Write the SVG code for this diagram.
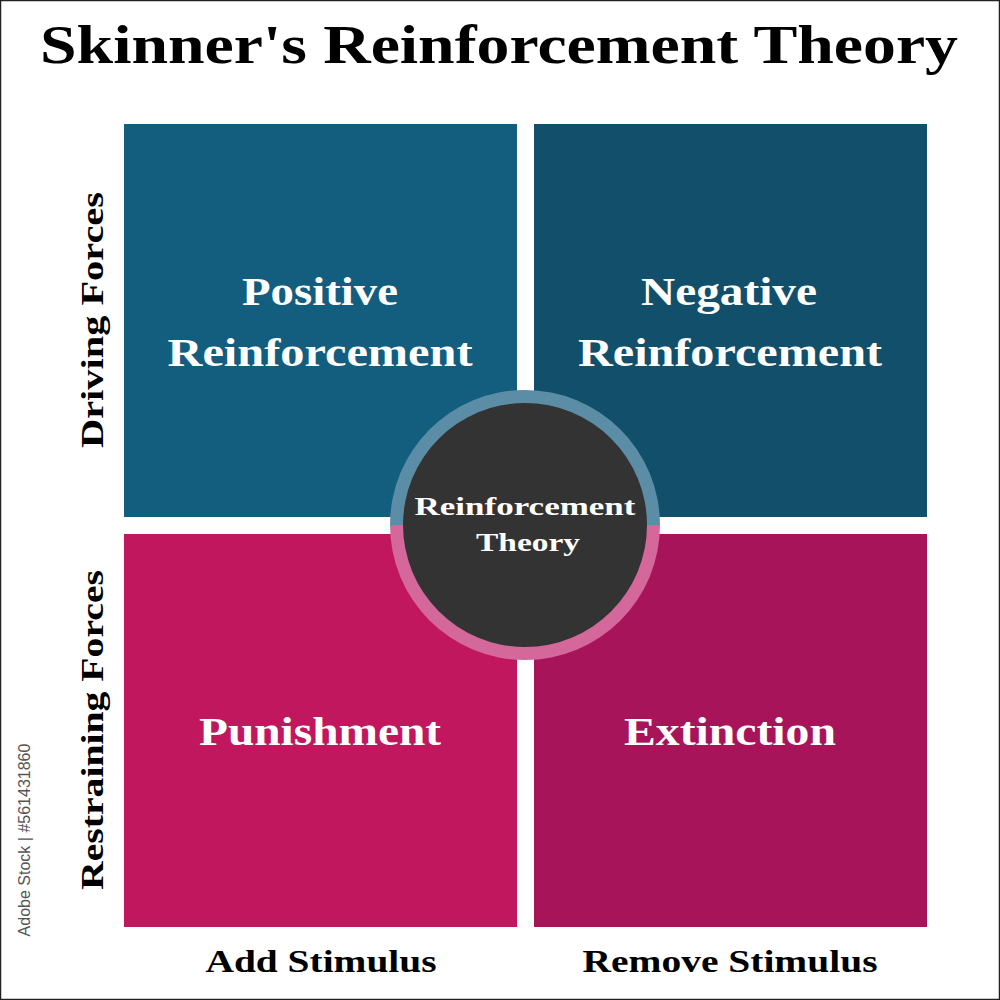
<svg xmlns="http://www.w3.org/2000/svg" width="1000" height="1000" viewBox="0 0 1000 1000">
<style>
.t{font-family:"Liberation Serif","Times New Roman",serif;font-weight:bold;text-anchor:middle}
.w{fill:#fff;font-size:40px}
.k{fill:#000;font-size:32px}
</style>
<rect x="0.5" y="0.5" width="999" height="999" fill="#fff" stroke="#222" stroke-width="1.5"/>
<text class="t" x="499" y="63" font-size="54" textLength="918" lengthAdjust="spacingAndGlyphs">Skinner's Reinforcement Theory</text>
<g id="positive"><rect x="124" y="124" width="393" height="393" fill="#135e7e"/>
<text class="t w" x="320" y="305" textLength="156" lengthAdjust="spacingAndGlyphs">Positive</text><text class="t w" x="320" y="366" textLength="305" lengthAdjust="spacingAndGlyphs">Reinforcement</text></g>
<g id="negative"><rect x="534" y="124" width="393" height="393" fill="#124f6a"/>
<text class="t w" x="729" y="305" textLength="176" lengthAdjust="spacingAndGlyphs">Negative</text><text class="t w" x="730" y="366" textLength="304" lengthAdjust="spacingAndGlyphs">Reinforcement</text></g>
<g id="punishment"><rect x="124" y="534" width="393" height="393" fill="#c0175f"/>
<text class="t w" x="320" y="745" textLength="242" lengthAdjust="spacingAndGlyphs">Punishment</text></g>
<g id="extinction"><rect x="534" y="534" width="393" height="393" fill="#a8145a"/>
<text class="t w" x="730" y="745" textLength="212" lengthAdjust="spacingAndGlyphs">Extinction</text></g>
<g id="center">
<path d="M390,525 A135,135 0 0 1 660,525 Z" fill="#5b8ea6"/>
<path d="M390,525 A135,135 0 0 0 660,525 Z" fill="#d5689a"/>
<circle cx="525" cy="525" r="122" fill="#333"/>
<text class="t" x="525" y="515" font-size="25" fill="#fff" textLength="221" lengthAdjust="spacingAndGlyphs">Reinforcement</text>
<text class="t" x="528" y="551" font-size="25" fill="#fff" textLength="104" lengthAdjust="spacingAndGlyphs">Theory</text>
</g>
<text class="t k" transform="translate(103,320) rotate(-90)" textLength="256" lengthAdjust="spacingAndGlyphs">Driving Forces</text>
<text class="t k" transform="translate(103,730) rotate(-90)" textLength="320" lengthAdjust="spacingAndGlyphs">Restraining Forces</text>
<text class="t k" x="321" y="972" textLength="231" lengthAdjust="spacingAndGlyphs">Add Stimulus</text>
<text class="t k" x="730" y="972" textLength="295" lengthAdjust="spacingAndGlyphs">Remove Stimulus</text>
<text transform="translate(30,840) rotate(-90)" text-anchor="middle" font-family="Liberation Sans,Arial,sans-serif" font-size="16" fill="#555">Adobe Stock | #561431860</text>
</svg>
